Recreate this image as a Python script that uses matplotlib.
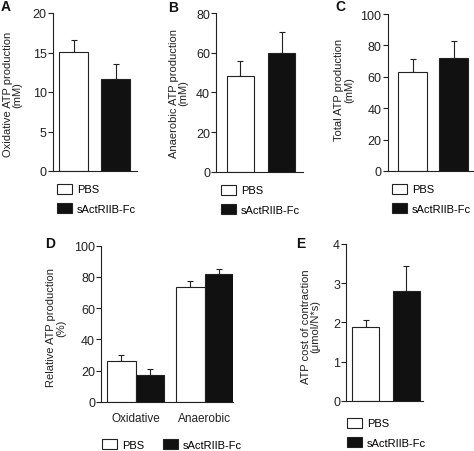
import matplotlib
matplotlib.use("Agg")
import matplotlib.pyplot as plt
from matplotlib.patches import Patch
import numpy as np

plt.rcParams['font.family'] = ['Liberation Sans', 'DejaVu Sans']
plt.rcParams['font.size'] = 8

groups = ["PBS", "sActRIIB-Fc"]
colors = ["white", "#111111"]

# Panel A-C: means and upper SEM
oxid_mean = [15.1, 11.7]
oxid_err = [1.5, 1.8]
anaer_mean = [48.0, 60.0]
anaer_err = [8.0, 10.5]
total_mean = [63.0, 72.0]
total_err = [8.5, 11.0]

# Panel D
d_categories = ["Oxidative", "Anaerobic"]
d_pbs_mean = [26.3, 73.7]
d_pbs_err = [3.8, 3.8]
d_sact_mean = [17.5, 82.0]
d_sact_err = [3.3, 3.4]

# Panel E
e_mean = [1.87, 2.81]
e_err = [0.20, 0.63]

W, H = 474, 452
fig = plt.figure(figsize=(W / 100, H / 100), dpi=100)


def add_ax(x0, x1, ytop, ybot):
    return fig.add_axes([x0 / W, 1 - ybot / H, (x1 - x0) / W, (ybot - ytop) / H])


def style(ax, ylim, yticks):
    for s in ("top", "right"):
        ax.spines[s].set_visible(False)
    for s in ("left", "bottom"):
        ax.spines[s].set_linewidth(0.8)
        ax.spines[s].set_color("#222222")
    ax.set_ylim(*ylim)
    ax.set_yticks(yticks)
    ax.tick_params(axis="y", direction="out", length=3.3, width=0.8, pad=1.0,
                   labelsize=9, colors="#222222")
    ax.tick_params(axis="x", length=0)


def ylabel(ax, text, x, y):
    ax.set_ylabel(text, fontsize=8, linespacing=0.95, color="#222222")
    ax.yaxis.label.set_va("center")
    ax.yaxis.label.set_multialignment("center")
    ax.yaxis.set_label_coords(x, y)


def legend_v(ax, x, y):
    handles = [Patch(facecolor=c, edgecolor="#222222", linewidth=0.8) for c in colors]
    ax.legend(handles, groups, loc="upper left",
              bbox_to_anchor=(x / W, 1 - y / H), bbox_transform=fig.transFigure,
              frameon=False, fontsize=8, handlelength=1.35, handleheight=1.05,
              handletextpad=0.45, labelspacing=0.75, borderpad=0, borderaxespad=0)


def simple_panel(ax, means, errs, width):
    x = np.arange(len(means))
    ax.bar(x, means, width=width, color=colors, edgecolor="#222222", linewidth=0.8,
           zorder=2)
    ax.errorbar(x, means, yerr=[np.zeros(len(errs)), errs], fmt="none",
                ecolor="#222222", elinewidth=0.8, capsize=2.2, capthick=0.8, zorder=1)
    ax.set_xticks([])


# Panel A
axA = add_ax(52.7, 137, 14, 172)
simple_panel(axA, oxid_mean, oxid_err, 0.7)
axA.set_xlim(-0.5, 1.51)
style(axA, (0, 20), [0, 5, 10, 15, 20])
ylabel(axA, "Oxidative ATP production\n(mM)", -0.477, 0.49)
legend_v(axA, 56.7, 184.5)

# Panel B
axB = add_ax(216, 302.7, 14, 172.7)
simple_panel(axB, anaer_mean, anaer_err, 0.67)
axB.set_xlim(-0.59, 1.51)
style(axB, (0, 80), [0, 20, 40, 60, 80])
ylabel(axB, "Anaerobic ATP production\n(mM)", -0.43, 0.50)
legend_v(axB, 220.7, 185.5)

# Panel C
axC = add_ax(387.5, 474, 15, 172)
simple_panel(axC, total_mean, total_err, 0.69)
axC.set_xlim(-0.61, 1.5)
style(axC, (0, 100), [0, 20, 40, 60, 80, 100])
ylabel(axC, "Total ATP production\n(mM)", -0.50, 0.525)
legend_v(axC, 391.7, 184.5)

# Panel D
axD = add_ax(101, 233, 246.7, 403)
xd = np.arange(len(d_categories))
bw = 0.41
axD.bar(xd - bw / 2, d_pbs_mean, width=bw, color=colors[0], edgecolor="#222222",
        linewidth=0.8, zorder=2)
axD.bar(xd + bw / 2, d_sact_mean, width=bw, color=colors[1], edgecolor="#222222",
        linewidth=0.8, zorder=2)
axD.errorbar(xd - bw / 2, d_pbs_mean, yerr=[np.zeros(2), d_pbs_err], fmt="none",
             ecolor="#222222", elinewidth=0.8, capsize=2.2, capthick=0.8, zorder=1)
axD.errorbar(xd + bw / 2, d_sact_mean, yerr=[np.zeros(2), d_sact_err], fmt="none",
             ecolor="#222222", elinewidth=0.8, capsize=2.2, capthick=0.8, zorder=1)
axD.set_xlim(-0.5, 1.41)
style(axD, (0, 100), [0, 20, 40, 60, 80, 100])
axD.set_xticks(xd)
axD.set_xticklabels(d_categories, fontsize=8.5, color="#222222")
axD.tick_params(axis="x", length=0, pad=7)
ylabel(axD, "Relative ATP production\n(%)", -0.34, 0.48)
handles = [Patch(facecolor=c, edgecolor="#222222", linewidth=0.8) for c in colors]
axD.legend(handles, groups, loc="upper left", ncol=2,
           bbox_to_anchor=(101.7 / W, 1 - 440 / H), bbox_transform=fig.transFigure,
           frameon=False, fontsize=8, handlelength=1.35, handleheight=1.05,
           handletextpad=0.45, columnspacing=1.7, borderpad=0, borderaxespad=0)

# Panel E
axE = add_ax(346, 423, 245, 401.7)
simple_panel(axE, e_mean, e_err, 0.66)
axE.set_xlim(-0.48, 1.41)
style(axE, (0, 4), [0, 1, 2, 3, 4])
ylabel(axE, "ATP cost of contraction\n(μmol/N*s)", -0.46, 0.477)
legend_v(axE, 346.7, 418.5)

# Panel letters
for letter, (px, py) in {"A": (1, 11), "B": (168, 11.5), "C": (335, 11),
                         "D": (45, 248.3), "E": (296, 247.7)}.items():
    fig.text(px / W, 1 - py / H, letter, fontsize=10, fontweight="bold",
             ha="left", va="baseline", color="#111111")

fig.savefig("out.png", dpi=100)
